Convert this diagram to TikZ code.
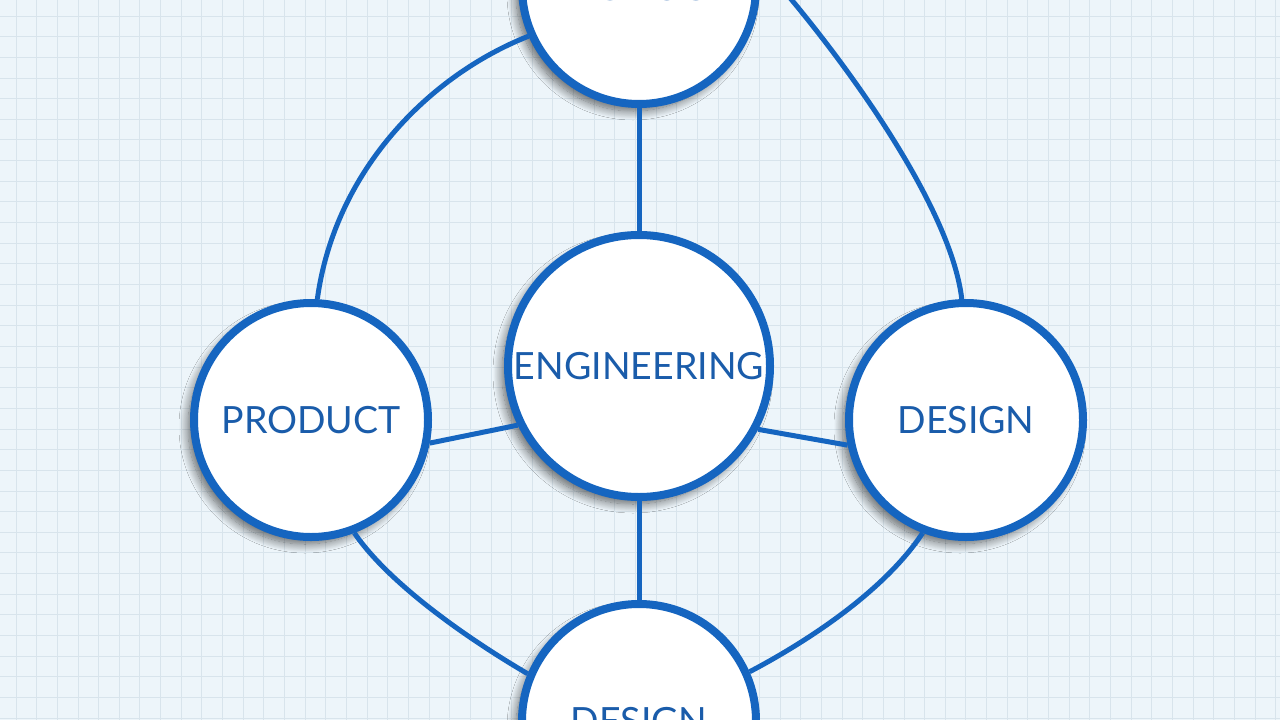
\documentclass[tikz,border=0pt]{standalone}
\usepackage{fontspec}
\setmainfont{Lato}
\usetikzlibrary{shadows.blur}
\definecolor{bgc}{HTML}{EDF5FA}
\definecolor{gridc}{HTML}{D8E4EC}
\definecolor{bluec}{HTML}{1565C0}
\definecolor{textc}{HTML}{1A5CAA}
\tikzset{
  circ/.style={circle, draw=bluec, line width=8pt, fill=white, text=textc,
    font=\fontsize{37.5}{40}\selectfont, inner sep=0pt,
    blur shadow={shadow xshift=-6pt, shadow yshift=-7pt, shadow blur radius=9pt, shadow blur steps=14, shadow opacity=60}},
  link/.style={draw=bluec, line width=5pt},
  gridline/.style={draw=gridc, line width=0.9pt}
}
\begin{document}
\begin{tikzpicture}[x=1pt,y=-1pt]
\useasboundingbox (0,0) rectangle (1280,720);
\fill[bgc] (0,0) rectangle (1280,720);
\foreach \i in {0,...,62} {
  \draw[gridline] ({16+20.65*\i},0) -- ({16+20.65*\i},720);
}
\foreach \j in {-1,...,35} {
  \draw[gridline] (0,{16+20.65*\j}) -- (1280,{16+20.65*\j});
}
% nodes
\node[circ, minimum size=234pt] (T) at (639,-13) {\raisebox{-4pt}{PRODUCT}};
\node[circ, minimum size=234pt] (L) at (311,420) {PRODUCT};
\node[circ, minimum size=234pt] (R) at (966,420) {DESIGN};
\node[circ, minimum size=234pt] (B) at (639,721) {DESIGN};
\node[circ, minimum size=262pt] (C) at (639,366) {ENGINEERING};
% connectors
\draw[link] (T.south) -- (C.north);
\draw[link] (C.south) -- (B.north);
\draw[link] (L.-11) -- (C.206);
\draw[link] (C.-28) -- (R.192);
\draw[link] (L.87) .. controls (335,170) and (430,75) .. (T.204);
\draw[link] (T.13) .. controls (830,40) and (950,200) .. (R.92);
\draw[link] (L.-69) .. controls (390,585) and (470,640) .. (B.157);
\draw[link] (R.249) .. controls (885,590) and (810,640) .. (B.24);
\end{tikzpicture}
\end{document}
